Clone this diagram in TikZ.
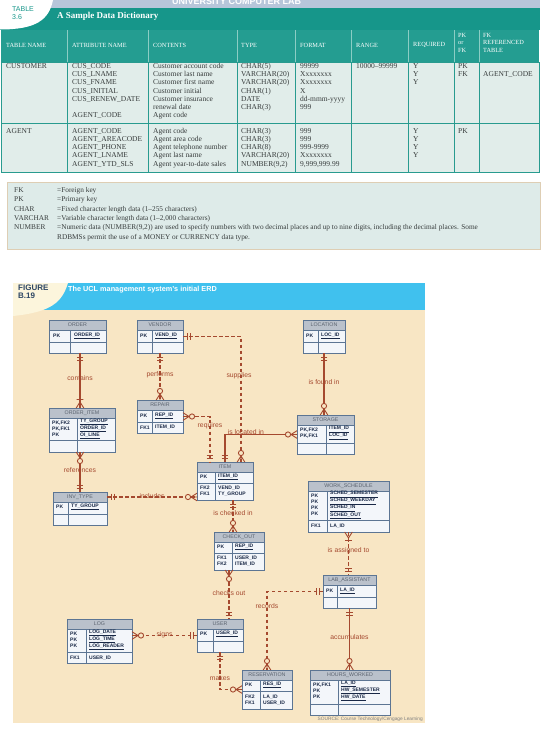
\documentclass[tikz,border=0pt]{standalone}
\usepackage{fontspec}
\setmainfont{Liberation Serif}
\setsansfont{Liberation Sans}
\usetikzlibrary{positioning}
\usetikzlibrary{calc}
\usetikzlibrary{decorations.markings}
\definecolor{tabteal}{RGB}{22,150,138}
\definecolor{headteal}{RGB}{36,157,145}
\definecolor{headrule}{RGB}{140,205,196}
\definecolor{bodyfill}{RGB}{225,237,234}
\definecolor{gridteal}{RGB}{40,155,143}
\definecolor{tabtext}{RGB}{55,60,60}
\definecolor{stripblue}{RGB}{183,198,218}
\definecolor{notefill}{RGB}{222,235,233}
\definecolor{noteline}{RGB}{222,206,180}
\definecolor{figbg}{RGB}{248,230,196}
\definecolor{figtab}{RGB}{252,245,220}
\definecolor{figblue}{RGB}{64,193,238}
\definecolor{figlabel}{RGB}{45,70,100}
\definecolor{enthead}{RGB}{186,193,203}
\definecolor{entbody}{RGB}{243,246,250}
\definecolor{entline}{RGB}{92,117,147}
\definecolor{enttitle}{RGB}{90,98,110}
\definecolor{enttext}{RGB}{25,40,70}
\definecolor{relred}{RGB}{165,73,47}

\tikzset{
  cell/.style={font=\fontsize{7.5}{8.2}\selectfont, text=tabtext, anchor=base west, inner sep=0pt},
  colhead/.style={font=\fontsize{6.3}{7.5}\selectfont, text=white, anchor=west, inner sep=0pt, align=left},
  note/.style={font=\fontsize{7.3}{8}\selectfont, text=tabtext, anchor=base west, inner sep=0pt},
  entity/.style={draw=entline, fill=entbody, line width=0.7pt, inner sep=0pt, outer sep=0pt, anchor=north west},
  entity head/.style={fill=enthead},
  entity rule/.style={draw=entline, line width=0.6pt},
  entity title/.style={font=\sffamily\fontsize{5.3}{6}\selectfont, text=enttitle, inner sep=0pt},
  keycol/.style={font=\sffamily\bfseries\fontsize{5}{6}\selectfont, text=enttext, anchor=west, inner sep=0pt, align=left},
  attrcol/.style={keycol},
  idrel/.style={draw=relred, line width=1.1pt},
  nonidrel/.style={idrel, dash pattern=on 3.5pt off 2.5pt},
  rellabel/.style={font=\sffamily\fontsize{6.8}{7}\selectfont, text=relred, inner sep=0pt},
  symstart/.style={postaction={decorate, decoration={markings, mark=at position 0 with {\pic[transform shape]{#1};}}}},
  symend/.style={postaction={decorate, decoration={markings, mark=at position 1 with {\pic[transform shape, rotate=180]{#1};}}}},
  pics/onebar/.style={code={\draw[relred, solid, line width=0.9pt] (4,-3.3) -- (4,3.3) (7,-3.3) -- (7,3.3);}},
  pics/zeromany/.style={code={
    \draw[relred, solid, line width=0.9pt] (0,-3.8) -- (6,0) -- (0,3.8) (0,0) -- (6,0);
    \draw[relred, solid, line width=0.9pt, fill=figbg] (9,0) circle (2.6);}},
  pics/onemany/.style={code={\draw[relred, solid, line width=0.9pt] (0,-3.8) -- (6,0) -- (0,3.8) (8.5,-3.3) -- (8.5,3.3);}},
}

% entity box: name, x, y, width, height, key divider x, row rule y, title
\newcommand{\erdentity}[8]{%
  \node[entity, minimum width=#4pt, minimum height=#5pt] (#1) at (#2,#3) {};
  \fill[entity head] (#2,#3) rectangle (#2+#4,#3+10);
  \draw[entity rule] (#2,#3+10) -- (#2+#4,#3+10)
    (#6,#3+10) -- (#6,#3+#5) (#2,#7) -- (#2+#4,#7);
  \draw[entity rule] (#1.north west) rectangle (#1.south east);
  \node[entity title] (#1-title) at (#2+#4/2,#3+5) {#8};
}

\begin{document}
\begin{tikzpicture}[x=1pt, y=-1pt]
    \useasboundingbox (0,0) rectangle (550,736);
    \clip (0,0) rectangle (550,736);

    % Heading strip (cut off at the top)
    \fill[stripblue] (40,0) rectangle (540,8);
    \node[font=\sffamily\bfseries\fontsize{9}{9}\selectfont, text=white, anchor=base west, inner sep=0pt] (lab) at (172,4.5) {UNIVERSITY COMPUTER LAB};

    % Table 3.6 title band and tab
    \fill[tabteal] (0,8) rectangle (540,29.5);
    \fill[white] (0,0) -- (53,0) .. controls (49,20) and (36,29.5) .. (0,29.5) -- cycle;
    \node[font=\sffamily\fontsize{7}{8.5}\selectfont, text=tabteal, anchor=north west, align=left, inner sep=0pt] (tabno) at (12,6) {TABLE\\3.6};
    \node[font=\bfseries\fontsize{9}{9}\selectfont, text=white, anchor=west, inner sep=0pt] (tabtitle) at (57,16) {A Sample Data Dictionary};

    % Column heads
    \fill[headteal] (1,30) rectangle (539,62);
    \foreach \x in {67,148,237,295,351,408,454,479} {
        \draw[headrule, line width=0.6pt] (\x,30) -- (\x,62);
    }
    \foreach \x/\t [count=\i] in {6/TABLE NAME, 72/ATTRIBUTE NAME, 153/CONTENTS, 241/TYPE, 300/FORMAT, 356/RANGE, 413/REQUIRED} {
        \node[colhead] (head\i) at (\x,45) {\t};
    }
    \node[colhead] (head8) at (458,42.5) {PK\\or\\FK};
    \node[colhead] (head9) at (483,42.5) {FK\\REFERENCED\\TABLE};

    % Table body -- two rows
    \fill[bodyfill] (1,62) rectangle (539,172);
    \draw[gridteal, line width=0.8pt] (1,62) rectangle (539,172);
    \draw[gridteal, line width=0.8pt] (1,123) -- (539,123);
    \foreach \x in {67,148,237,295,351,408,454,479} {
        \draw[gridteal, line width=0.8pt] (\x,62) -- (\x,172);
    }

    % CUSTOMER row
    \node[cell] (cus) at (6,68.5) {CUSTOMER};
    \foreach \t [count=\i from 0] in {CUS\_CODE, CUS\_LNAME, CUS\_FNAME, CUS\_INITIAL, CUS\_RENEW\_DATE, , AGENT\_CODE} {
        \node[cell] (cusattr\i) at (72,68.5+8.2*\i) {\t};
    }
    \foreach \t [count=\i from 0] in {Customer account code, Customer last name, Customer first name, Customer initial, Customer insurance, renewal date, Agent code} {
        \node[cell] (cuscont\i) at (153,68.5+8.2*\i) {\t};
    }
    \foreach \t [count=\i from 0] in {CHAR(5), VARCHAR(20), VARCHAR(20), CHAR(1), DATE, CHAR(3)} {
        \node[cell] (custype\i) at (241,68.5+8.2*\i) {\t};
    }
    \foreach \t [count=\i from 0] in {99999, Xxxxxxxx, Xxxxxxxx, X, dd-mmm-yyyy, 999} {
        \node[cell] (cusfmt\i) at (300,68.5+8.2*\i) {\t};
    }
    \node[cell] (cusrange) at (356,68.5) {10000–99999};
    \foreach \i in {0,1,2} {
        \node[cell] (cusreq\i) at (413,68.5+8.2*\i) {Y};
    }
    \node[cell] (cuspk) at (458,68.5) {PK};
    \node[cell] (cusfk) at (458,76.7) {FK};
    \node[cell] (cusref) at (483,76.7) {AGENT\_CODE};

    % AGENT row
    \node[cell] (agt) at (6,133.2) {AGENT};
    \foreach \t [count=\i from 0] in {AGENT\_CODE, AGENT\_AREACODE, AGENT\_PHONE, AGENT\_LNAME, AGENT\_YTD\_SLS} {
        \node[cell] (agtattr\i) at (72,133.2+8.2*\i) {\t};
    }
    \foreach \t [count=\i from 0] in {Agent code, Agent area code, Agent telephone number, Agent last name, Agent year-to-date sales} {
        \node[cell] (agtcont\i) at (153,133.2+8.2*\i) {\t};
    }
    \foreach \t [count=\i from 0] in {CHAR(3), CHAR(3), CHAR(8), VARCHAR(20), {NUMBER(9,2)}} {
        \node[cell] (agttype\i) at (241,133.2+8.2*\i) {\t};
    }
    \foreach \t [count=\i from 0] in {999, 999, 999-9999, Xxxxxxxx, {9,999,999.99}} {
        \node[cell] (agtfmt\i) at (300,133.2+8.2*\i) {\t};
    }
    \foreach \i in {0,...,3} {
        \node[cell] (agtreq\i) at (413,133.2+8.2*\i) {Y};
    }
    \node[cell] (agtpk) at (458,133.2) {PK};

    % Abbreviation notes
    \fill[notefill, draw=noteline, line width=0.8pt] (7,182) rectangle (540,249);
    \foreach \k/\d [count=\i from 0] in {FK/=Foreign key, PK/=Primary key, CHAR/{=Fixed character length data (1–255 characters)}, VARCHAR/{=Variable character length data (1–2,000 characters)}, NUMBER/{=Numeric data (NUMBER(9,2)) are used to specify numbers with two decimal places and up to nine digits, including the decimal places. Some}} {
        \node[note] (notek\i) at (14,192.5+9.3*\i) {\k};
        \node[note] (noted\i) at (57,192.5+9.3*\i) {\d};
    }
    \node[note] (noted5) at (57,239) {RDBMSs permit the use of a MONEY or CURRENCY data type.};

    % Figure B.19 frame
    \fill[figbg] (13,283) rectangle (425,723);
    \fill[figblue] (13,283) rectangle (425,310);
    \fill[figtab] (13,283) -- (68,283) .. controls (62,302) and (52,312) .. (13,316) -- cycle;
    \node[font=\sffamily\bfseries\fontsize{8}{8.5}\selectfont, text=figlabel, anchor=north west, align=left, inner sep=0pt] (figno) at (18,284.5) {FIGURE\\B.19};
    \node[font=\sffamily\bfseries\fontsize{7.3}{8}\selectfont, text=white, anchor=west, inner sep=0pt] (figtitle) at (68,290) {The UCL management system's initial ERD};

    % Entities
    \erdentity{order}{49}{320}{57}{33}{70}{342}{ORDER}
    \node[keycol] (orderk) at (53,336) {PK};
    \node[attrcol] (ordera) at (74,336) {\underline{ORDER\_ID}};

    \erdentity{vendor}{137}{320}{46}{33}{152}{342}{VENDOR}
    \node[keycol] (vendork) at (140,336) {PK};
    \node[attrcol] (vendora) at (155,336) {\underline{VEND\_ID}};

    \erdentity{location}{303}{320}{42}{33}{318}{342}{LOCATION}
    \node[keycol] (locationk) at (306,336) {PK};
    \node[attrcol] (locationa) at (321,336) {\underline{LOC\_ID}};

    \erdentity{repair}{137}{400}{46}{33}{152}{422}{REPAIR}
    \node[keycol] (repairk) at (140,416) {PK};
    \node[attrcol] (repaira) at (155,416) {\underline{REP\_ID}};
    \node[keycol] (repairk2) at (140,427.5) {FK1};
    \node[attrcol] (repaira2) at (155,427.5) {ITEM\_ID};

    \erdentity{orderitem}{49}{408}{66}{44}{77}{440}{ORDER\_ITEM}
    \node[keycol] (orderitemk) at (52,429) {PK,FK2\\PK,FK1\\PK};
    \node[attrcol] (orderitema) at (80,429) {\underline{TY\_GROUP}\\\underline{ORDER\_ID}\\\underline{OI\_LINE}};

    \erdentity{storage}{297}{415}{57}{39}{326}{443}{STORAGE}
    \node[keycol] (storagek) at (300,433) {PK,FK2\\PK,FK1};
    \node[attrcol] (storagea) at (329,433) {\underline{ITEM\_ID}\\\underline{LOC\_ID}};

    \erdentity{item}{197}{462}{56}{38}{215}{483}{ITEM}
    \node[keycol] (itemk) at (200,477) {PK};
    \node[attrcol] (itema) at (218,477) {\underline{ITEM\_ID}};
    \node[keycol] (itemk2) at (200,491) {FK2\\FK1};
    \node[attrcol] (itema2) at (218,491) {VEND\_ID\\TY\_GROUP};

    \erdentity{invtype}{53}{492}{54}{33}{68}{514}{INV\_TYPE}
    \node[keycol] (invtypek) at (56,507) {PK};
    \node[attrcol] (invtypea) at (71,507) {\underline{TY\_GROUP}};

    \erdentity{workschedule}{308}{481}{81}{51}{327}{520}{WORK\_SCHEDULE}
    \node[keycol] (workschedulek) at (311,505) {PK\\PK\\PK\\PK};
    \node[attrcol] (workschedulea) at (330,505) {\underline{SCHED\_SEMESTER}\\\underline{SCHED\_WEEKDAY}\\\underline{SCHED\_IN}\\\underline{SCHED\_OUT}};
    \node[keycol] (workschedulek2) at (311,526) {FK1};
    \node[attrcol] (workschedulea2) at (330,526) {LA\_ID};

    \erdentity{checkout}{214}{532}{50}{38}{232}{553}{CHECK\_OUT}
    \node[keycol] (checkoutk) at (217,547) {PK};
    \node[attrcol] (checkouta) at (235,547) {\underline{REP\_ID}};
    \node[keycol] (checkoutk2) at (217,561) {FK1\\FK2};
    \node[attrcol] (checkouta2) at (235,561) {USER\_ID\\ITEM\_ID};

    \erdentity{labassistant}{323}{575}{53}{33}{337}{597}{LAB\_ASSISTANT}
    \node[keycol] (labassistantk) at (326,591) {PK};
    \node[attrcol] (labassistanta) at (340,591) {\underline{LA\_ID}};

    \erdentity{user}{197}{619}{46}{33}{213}{641}{USER}
    \node[keycol] (userk) at (200,634) {PK};
    \node[attrcol] (usera) at (216,634) {\underline{USER\_ID}};

    \erdentity{log}{67}{619}{65}{44}{86}{652}{LOG}
    \node[keycol] (logk) at (70,640) {PK\\PK\\PK};
    \node[attrcol] (loga) at (89,640) {\underline{LOG\_DATE}\\\underline{LOG\_TIME}\\\underline{LOG\_READER}};
    \node[keycol] (logk2) at (70,658) {FK1};
    \node[attrcol] (loga2) at (89,658) {USER\_ID};

    \erdentity{reservation}{242}{670}{50}{39}{260}{691}{RESERVATION}
    \node[keycol] (reservationk) at (245,685) {PK};
    \node[attrcol] (reservationa) at (263,685) {\underline{RES\_ID}};
    \node[keycol] (reservationk2) at (245,700) {FK2\\FK1};
    \node[attrcol] (reservationa2) at (263,700) {LA\_ID\\USER\_ID};

    \erdentity{hoursworked}{310}{670}{80}{45}{338}{704}{HOURS\_WORKED}
    \node[keycol] (hoursworkedk) at (313,691) {PK,FK1\\PK\\PK};
    \node[attrcol] (hoursworkeda) at (341,691) {\underline{LA\_ID}\\\underline{HW\_SEMESTER}\\\underline{HW\_DATE}};

    % Relationships
    \coordinate (cont) at ([xshift=2.5pt]order.south);
    \draw[idrel, symstart=onebar, symend=onemany] (cont) -- (cont |- orderitem.north)
        node[rellabel, pos=0.45] (lcont) {contains};

    \draw[nonidrel, symstart=onebar, symend=zeromany] (vendor.south) -- (repair.north)
        node[rellabel, pos=0.47] (lperf) {performs};

    \coordinate (supp) at ([xshift=16pt]item.north);
    \draw[nonidrel, symstart=onebar, symend=zeromany] (vendor.east) -| (supp)
        node[rellabel, pos=0.655, xshift=-2pt] (lsupp) {supplies};

    \draw[idrel, symstart=onebar, symend=zeromany] (location.south) -- (location.south |- storage.north)
        node[rellabel, pos=0.47] (lfound) {is found in};

    \draw[idrel, symstart=onebar, symend=zeromany] (item.north) |- (storage.west)
        node[rellabel, pos=0.645, yshift=2pt] (lloc) {is located in};

    \coordinate (reqd) at ([xshift=-15pt]item.north);
    \draw[nonidrel, symstart=zeromany, symend=onebar] (repair.east) -| (reqd)
        node[rellabel, pos=0.6] (lreq) {requires};

    \coordinate (refs) at ([xshift=-2pt]orderitem.south);
    \draw[idrel, symstart=zeromany, symend=onebar] (refs) -- (refs |- invtype.north)
        node[rellabel, pos=0.45] (lref) {references};

    \coordinate (incl) at ([yshift=-5pt]invtype.north east);
    \draw[nonidrel, symstart=onebar, symend=zeromany] (incl) -- (incl -| item.west)
        node[rellabel, pos=0.5, yshift=1pt] (lincl) {includes};

    \coordinate (chkin) at ([xshift=8pt]item.south);
    \draw[nonidrel, symstart=onebar, symend=zeromany] (chkin) -- (chkin |- checkout.north)
        node[rellabel, pos=0.4] (lchkin) {is checked in};

    \coordinate (chkout) at ([xshift=-10pt]checkout.south);
    \draw[nonidrel, symstart=zeromany, symend=onebar] (chkout) -- (chkout |- user.north)
        node[rellabel, pos=0.47] (lchkout) {checks out};

    \draw[nonidrel, symstart=onemany, symend=onebar] (workschedule.south) -- (workschedule.south |- labassistant.north)
        node[rellabel, pos=0.44] (lassign) {is assigned to};

    \draw[nonidrel, symstart=onebar, symend=zeromany] (labassistant.west) -| (reservation.north)
        node[rellabel, pos=0.59] (lrec) {records};

    \draw[idrel, symstart=onebar, symend=zeromany] (labassistant.south) -- (labassistant.south |- hoursworked.north)
        node[rellabel, pos=0.47] (lacc) {accumulates};

    \draw[nonidrel, symstart=onebar, symend=zeromany] (user.west) -- (user.west -| log.east)
        node[rellabel, pos=0.5, yshift=1pt] (lsign) {signs};

    \draw[nonidrel, symstart=onebar, symend=zeromany] (user.south) |- (reservation.west)
        node[rellabel, pos=0.35] (lmake) {makes};

    % Source line
    \node[font=\sffamily\fontsize{4.8}{5}\selectfont, text=gray, anchor=east, inner sep=0pt] (source) at (423,719) {SOURCE: Course Technology/Cengage Learning};
\end{tikzpicture}
\end{document}
